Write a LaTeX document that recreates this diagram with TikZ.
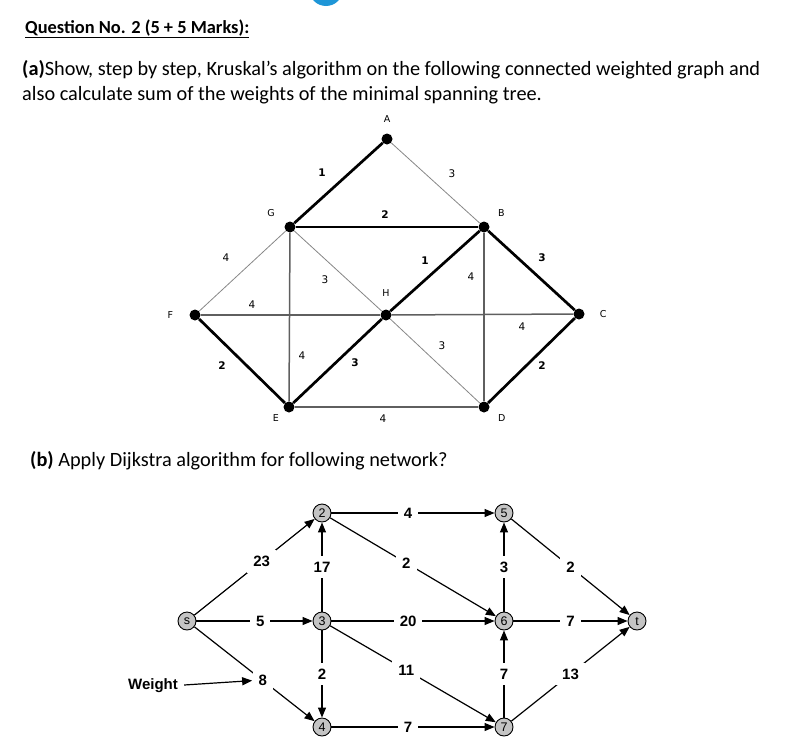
\documentclass[tikz,border=0pt]{standalone}
\usepackage{fontspec}
\setmainfont{Carlito}
\newfontfamily\krfont{DejaVu Sans}
\newfontfamily\djfont{Liberation Sans}
\usetikzlibrary{arrows.meta, positioning}
\definecolor{thinGray}{RGB}{135,135,135}
\definecolor{midGray}{RGB}{95,95,95}
\definecolor{dotGray}{RGB}{196,196,196}
\definecolor{logoBlue}{RGB}{30,150,215}
\tikzset{
  txt/.style={anchor=base west, inner sep=0pt,
    font=\fontsize{20.3}{24}\selectfont},
  kr/vertex/.style={circle, fill=black, inner sep=0pt, minimum size=11pt},
  kr/name/.style={inner sep=0pt, font=\krfont\fontsize{9.5}{10}\selectfont},
  kr/w/.style={inner sep=0pt, font=\krfont\fontsize{10.5}{10}\selectfont},
  kr/wb/.style={inner sep=0pt, font=\krfont\bfseries\fontsize{10.5}{10}\selectfont},
  kr/thin/.style={draw=thinGray, line width=0.8pt},
  kr/mid/.style={draw=midGray, line width=1.5pt},
  kr/tree/.style={draw=black, line width=2.7pt},
  dj/node/.style={circle, draw=black, fill=dotGray, line width=0.9pt,
    minimum size=18pt, inner sep=0pt, font=\djfont\fontsize{12.5}{12}\selectfont},
  dj/arr/.style={-{Triangle[length=10pt,width=8pt]}, line width=1.2pt},
  dj/w/.style={fill=white, inner sep=6pt,
    font=\djfont\bfseries\fontsize{15}{15}\selectfont},
  dj/lbl/.style={inner sep=0pt, font=\djfont\bfseries\fontsize{15}{15}\selectfont}
}
\begin{document}
\begin{tikzpicture}[x=1pt, y=-1pt]
  \useasboundingbox (0,0) rectangle (795,747);
  \begin{scope}
    \clip (0,0) rectangle (795,747);
    \fill[logoBlue] (326,-11) circle (17pt);
  \end{scope}

  \node[txt, font=\bfseries\fontsize{18.4}{23}\selectfont] (title) at (25,33)
    {\underline{Question No. 2 (5 + 5 Marks):}};
  \node[txt] (qa1) at (22,75) {\textbf{(a)}Show, step by step, Kruskal’s algorithm
    on the following connected weighted graph and};
  \node[txt] (qa2) at (22,100) {also calculate sum of the weights of the minimal
    spanning tree.};
  \node[txt] (qb) at (30,466) {\textbf{(b)} Apply Dijkstra algorithm for following
    network?};

  \node[kr/vertex] (A) at (387,139) {};
  \node[kr/vertex] (G) at (290,227) {};
  \node[kr/vertex] (B) at (484,227) {};
  \node[kr/vertex] (F) at (195,315) {};
  \node[kr/vertex] (H) at (386,315) {};
  \node[kr/vertex] (C) at (579,314) {};
  \node[kr/vertex] (E) at (289,407) {};
  \node[kr/vertex] (D) at (484,407) {};

  \node[kr/name, above=11pt of A] (lA) {A};
  \node[kr/name, above left=6pt and 11pt of G] (lG) {G};
  \node[kr/name, above right=6pt and 10pt of B] (lB) {B};
  \node[kr/name, left=16pt of F] (lF) {F};
  \node[kr/name, above=13pt of H] (lH) {H};
  \node[kr/name, right=15pt of C] (lC) {C};
  \node[kr/name, below left=3pt and 6pt of E] (lE) {E};
  \node[kr/name, below right=3pt and 10pt of D] (lD) {D};

  \draw[kr/thin] (A) -- (B);
  \draw[kr/thin] (G) -- (F);
  \draw[kr/thin] (G) -- (H);
  \draw[kr/thin] (H) -- (D);
  \draw[kr/mid] (G) -- (E);
  \draw[kr/mid] (B) -- (D);
  \draw[kr/mid] (F) -- (H);
  \draw[kr/mid] (H) -- (C);
  \draw[kr/mid] (E) -- (D);
  \draw[kr/tree] (A) -- (G);
  \draw[kr/tree] (G) -- (B);
  \draw[kr/tree] (B) -- (H);
  \draw[kr/tree] (B) -- (C);
  \draw[kr/tree] (F) -- (E);
  \draw[kr/tree] (E) -- (H);
  \draw[kr/tree] (C) -- (D);

  \node[kr/wb] (wAG) at (322,173) {1};
  \node[kr/w]  (wAB) at (452,174) {3};
  \node[kr/wb] (wGB) at (385,215) {2};
  \node[kr/w]  (wGF) at (226,258) {4};
  \node[kr/w]  (wGH) at (325,280) {3};
  \node[kr/w]  (wFH) at (252,305) {4};
  \node[kr/wb] (wBH) at (425,261) {1};
  \node[kr/w]  (wBD) at (471,277) {4};
  \node[kr/wb] (wBC) at (542,258) {3};
  \node[kr/w]  (wHC) at (522,327) {4};
  \node[kr/w]  (wGE) at (302,356) {4};
  \node[kr/wb] (wFE) at (222,366) {2};
  \node[kr/wb] (wEH) at (355,363) {3};
  \node[kr/w]  (wHD) at (442,346) {3};
  \node[kr/w]  (wED) at (383,419) {4};
  \node[kr/wb] (wCD) at (542,366) {2};

  \node[dj/node] (s)  at (187,621) {s};
  \node[dj/node] (n2) at (322,513) {2};
  \node[dj/node] (n3) at (322,621) {3};
  \node[dj/node] (n4) at (322,727) {4};
  \node[dj/node] (n5) at (504,513) {5};
  \node[dj/node] (n6) at (504,621) {6};
  \node[dj/node] (n7) at (504,727) {7};
  \node[dj/node] (t)  at (637,621) {t};

  \draw[dj/arr] (s)  -- node[dj/w, pos=.56] (w23) {23} (n2);
  \draw[dj/arr] (s)  -- node[dj/w, pos=.55] (w5) {5} (n3);
  \draw[dj/arr] (s)  -- node[dj/w, pos=.57] (w8) {8} (n4);
  \draw[dj/arr] (n3) -- node[dj/w, pos=.5] (w17) {17} (n2);
  \draw[dj/arr] (n3) -- node[dj/w, pos=.5] (w2b) {2} (n4);
  \draw[dj/arr] (n2) -- node[dj/w, pos=.47] (w4) {4} (n5);
  \draw[dj/arr] (n2) -- node[dj/w, pos=.46] (w2a) {2} (n6);
  \draw[dj/arr] (n3) -- node[dj/w, pos=.47] (w20) {20} (n6);
  \draw[dj/arr] (n3) -- node[dj/w, pos=.46] (w11) {11} (n7);
  \draw[dj/arr] (n4) -- node[dj/w, pos=.47] (w7a) {7} (n7);
  \draw[dj/arr] (n6) -- node[dj/w, pos=.5] (w3) {3} (n5);
  \draw[dj/arr] (n7) -- node[dj/w, pos=.5] (w7b) {7} (n6);
  \draw[dj/arr] (n5) -- node[dj/w, pos=.5] (w2c) {2} (t);
  \draw[dj/arr] (n6) -- node[dj/w, pos=.5] (w7c) {7} (t);
  \draw[dj/arr] (n7) -- node[dj/w, pos=.5] (w13) {13} (t);

  \node[dj/lbl] (weight) at (153,686) {Weight};
  \draw[dj/arr] (weight.east) ++(6pt,1pt) coordinate (wtail) (wtail) -- (w8.west);
\end{tikzpicture}
\end{document}
